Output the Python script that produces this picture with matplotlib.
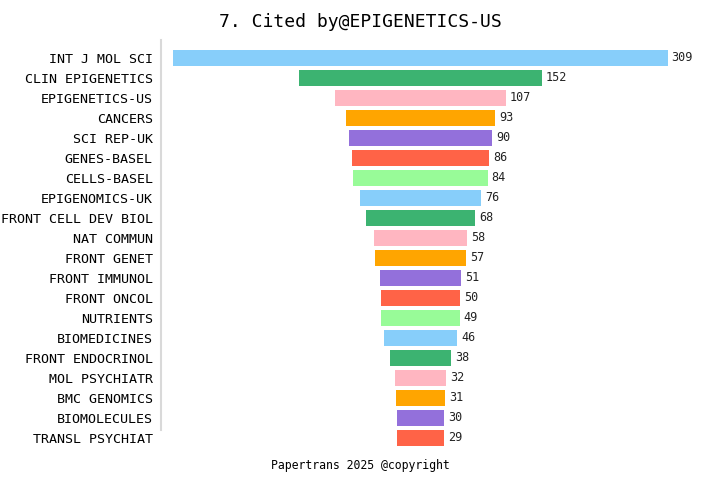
import matplotlib
matplotlib.use("Agg")
import matplotlib.pyplot as plt

journals = ["INT J MOL SCI", "CLIN EPIGENETICS", "EPIGENETICS-US", "CANCERS", "SCI REP-UK",
            "GENES-BASEL", "CELLS-BASEL", "EPIGENOMICS-UK", "FRONT CELL DEV BIOL", "NAT COMMUN",
            "FRONT GENET", "FRONT IMMUNOL", "FRONT ONCOL", "NUTRIENTS", "BIOMEDICINES",
            "FRONT ENDOCRINOL", "MOL PSYCHIATR", "BMC GENOMICS", "BIOMOLECULES", "TRANSL PSYCHIAT"]
counts = [309, 152, 107, 93, 90, 86, 84, 76, 68, 58, 57, 51, 50, 49, 46, 38, 32, 31, 30, 29]
palette = ["#87CEFA", "#3CB371", "#FFB6C1", "#FFA500", "#9370DB", "#FF6347", "#98FB98"]

plt.rcParams['font.family'] = ['DejaVu Sans Mono']

fig = plt.figure(figsize=(7.2, 4.8), dpi=100)
W, H = 720, 480
left_px, right_px, top_px, bot_px = 161, 680, 40, 450
ax = fig.add_axes([left_px / W, 1 - bot_px / H, (right_px - left_px) / W, (bot_px - top_px) / H])

ys = list(range(len(journals)))
colors = [palette[i % len(palette)] for i in ys]
lefts = [-c / 2 for c in counts]
ax.barh(ys, counts, left=lefts, height=0.8, color=colors)
for y, c in zip(ys, counts):
    ax.text(c / 2 + 2.5, y, str(c), va='center', ha='left', fontsize=8.5, color='#222222')

m = max(counts) / 2 * 1.05
ax.set_xlim(-m, m)
ax.set_ylim((bot_px - 58) / 20, (top_px - 58) / 20)
ax.set_yticks(ys)
ax.set_yticklabels(journals, fontsize=9.6)
ax.tick_params(axis='y', length=0, pad=6)
ax.set_xticks([])
for s in ['top', 'right', 'bottom']:
    ax.spines[s].set_visible(False)
ax.spines['left'].set_color('#d9d9d9')
ax.spines['left'].set_linewidth(1.5)
ax.spines['left'].set_bounds((top_px - 58) / 20, (430 - 58) / 20)

fig.text(0.5, 1 - 22 / H, "7. Cited by@EPIGENETICS-US", ha='center', va='center', fontsize=13)
fig.text(0.5, 1 - 466 / H, "Papertrans 2025 @copyright", ha='center', va='center', fontsize=8.3)

fig.savefig("out.png", dpi=100)
